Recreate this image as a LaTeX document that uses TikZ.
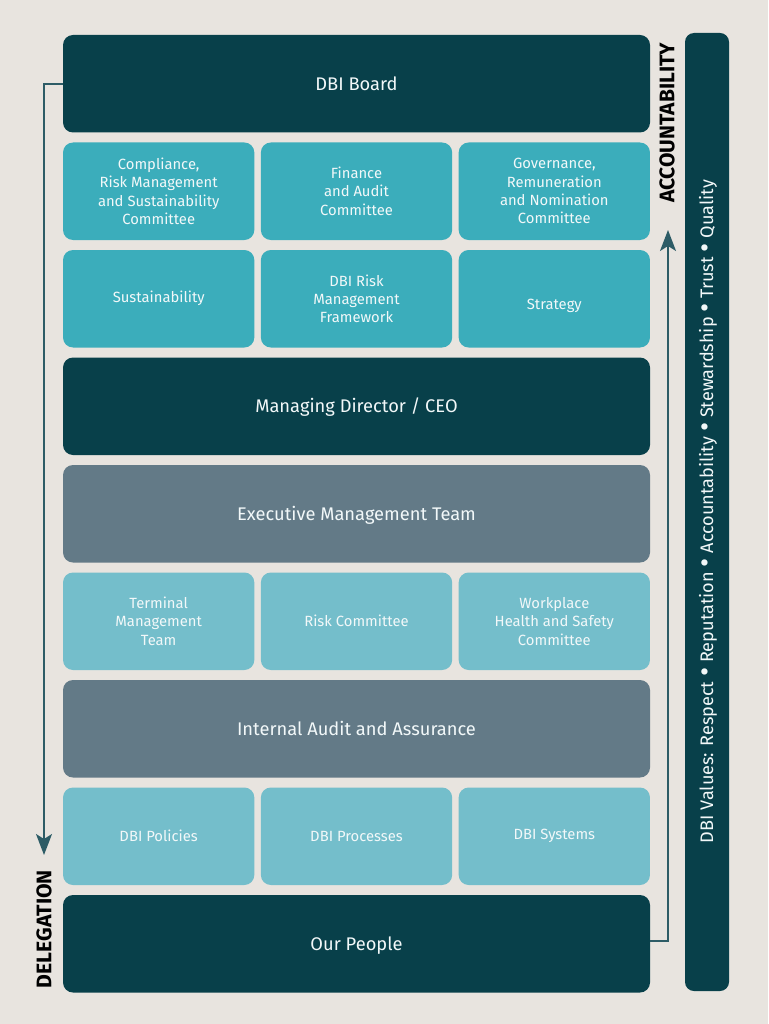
\documentclass[tikz,border=0pt]{standalone}
\usepackage{fontspec}
\setmainfont{Fira Sans}
\usetikzlibrary{arrows.meta}
\definecolor{bgc}{HTML}{E8E4DF}
\definecolor{darkc}{HTML}{08404A}
\definecolor{tealc}{HTML}{3BADBB}
\definecolor{grayc}{HTML}{637A87}
\definecolor{lightc}{HTML}{74BECB}
\definecolor{linec}{HTML}{2D5C66}
\definecolor{txtc}{HTML}{F2F8F9}
\newcommand{\vbul}{\raisebox{-0.1em}{\scalebox{1.55}{\textbullet}}}
\tikzset{
  box/.style={rounded corners=10pt, inner sep=0pt, align=center, text=txtc,
    minimum height=97.5pt},
  wide/.style={box, minimum width=587pt, font=\fontsize{18.3}{22}\selectfont,
    text height=1.3em, text depth=0pt},
  cell/.style={box, minimum width=191.3pt, font=\fontsize{14.8}{18.3}\selectfont},
  conn/.style={draw=linec, line width=1.5pt, -{Stealth[length=21pt,width=16pt,inset=5pt]}},
  sidelabel/.style={rotate=90, inner sep=0pt, text=black}
}
\begin{document}
\begin{tikzpicture}[x=1pt,y=-1pt]
\fill[bgc] (0,0) rectangle (768,1024);
\useasboundingbox (0,0) rectangle (768,1024);

% rows
\node[wide, fill=darkc] (board) at (356.5,83.75) {DBI Board};
\node[cell, fill=tealc] (crs) at (158.67,191.25) {Compliance,\\Risk Management\\and Sustainability\\Committee};
\node[cell, fill=tealc] (fac) at (356.5,191.25) {Finance\\and Audit\\Committee};
\node[cell, fill=tealc] (grn) at (554.33,191.25) {Governance,\\Remuneration\\and Nomination\\Committee};
\node[cell, fill=tealc] (sus) at (158.67,298.75) {Sustainability};
\node[cell, fill=tealc] (rmf) at (356.5,298.75) {DBI Risk\\Management\\Framework};
\node[cell, fill=tealc, text depth=0pt] (str) at (554.33,298.75) {\raisebox{-11pt}{Strategy}};
\node[wide, fill=darkc] (md) at (356.5,406.25) {Managing Director / CEO};
\node[wide, fill=grayc] (emt) at (356.5,513.75) {Executive Management Team};
\node[cell, fill=lightc] (tmt) at (158.67,621.25) {Terminal\\Management\\Team};
\node[cell, fill=lightc] (rc) at (356.5,621.25) {Risk Committee};
\node[cell, fill=lightc] (whs) at (554.33,621.25) {Workplace\\Health and Safety\\Committee};
\node[wide, fill=grayc] (iaa) at (356.5,728.75) {Internal Audit and Assurance};
\node[cell, fill=lightc] (pol) at (158.67,836.25) {DBI Policies};
\node[cell, fill=lightc] (pro) at (356.5,836.25) {DBI Processes};
\node[cell, fill=lightc] (sys) at (554.33,836.25) {DBI Systems};
\node[wide, fill=darkc] (people) at (356.5,943.75) {Our People};

% values bar
\node[fill=darkc, rounded corners=9pt, minimum width=44pt, minimum height=958pt, inner sep=0pt] (bar) at (707,512) {};
\node[sidelabel, text=txtc] (vals) at (708,511.5) {\resizebox{663pt}{!}{\fontsize{17}{20}\selectfont DBI Values: Respect \vbul\ Reputation \vbul\ Accountability \vbul\ Stewardship \vbul\ Trust \vbul\ Quality}};

% side labels
\node[sidelabel] (acc) at (667,123) {\resizebox{160pt}{15pt}{\bfseries ACCOUNTABILITY}};
\node[sidelabel] (del) at (44,929) {\resizebox{118pt}{15pt}{\bfseries DELEGATION}};

% connectors
\coordinate (dtip) at (44,855);
\coordinate (utip) at (668,230);
\draw[conn] (board.west |- 0,84) -- (44,84) -- (dtip);
\draw[conn] (people.east |- 0,941) -- (668,941) -- (utip);
\end{tikzpicture}
\end{document}
